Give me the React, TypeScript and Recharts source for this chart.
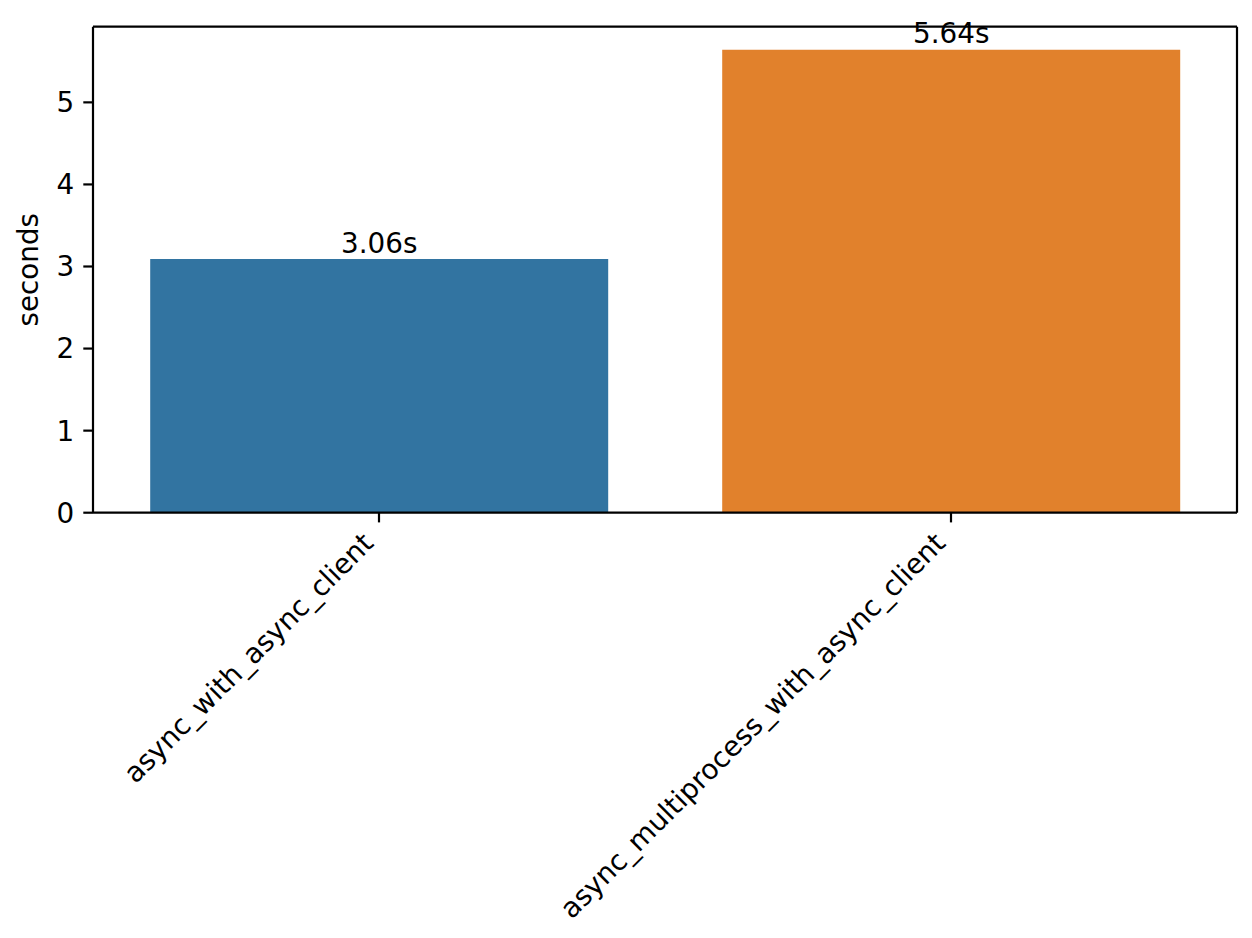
import { BarChart, Bar, XAxis, YAxis, Cell, LabelList } from 'recharts';

// values
const categories = ['async_with_async_client', 'async_multiprocess_with_async_client'];
const seconds = [3.09, 5.64];
const valueLabels = ['3.06s', '5.64s'];
const barColors = ['#3274a1', '#e1812c'];
const yTicks = [0, 1, 2, 3, 4, 5];

const data = categories.map((name, i) => ({ name, seconds: seconds[i], label: valueLabels[i] }));

const FONT = '"DejaVu Sans", sans-serif';
const FONT_SIZE = 27.8;
const LINE = 2.2;

const RotatedTick = (props: any) => {
    const { x, y, payload } = props;
    const px = x - 4;
    const py = y + 22.5;
    return (
        <text x={px} y={py} textAnchor="end" transform={`rotate(-45 ${px} ${py})`}
            fontSize={FONT_SIZE} fontFamily={FONT} fill="#000">
            {payload.value}
        </text>
    );
};

const renderValueLabel = (props: any) => {
    const { x, y, width, value } = props;
    return (
        <text x={x + width / 2} y={y - 6.6} textAnchor="middle" fontSize={FONT_SIZE} fontFamily={FONT} fill="#000">
            {value}
        </text>
    );
};

const renderYLabel = (props: any) => {
    const { viewBox } = props;
    const lx = viewBox.x + 38.5;
    const ly = viewBox.y + viewBox.height / 2;
    return (
        <text x={lx} y={ly} textAnchor="middle" transform={`rotate(-90 ${lx} ${ly})`}
            fontSize={FONT_SIZE} fontFamily={FONT} fill="#000">
            seconds
        </text>
    );
};

export default function App() {
    return (
        <div style={{ position: 'absolute', left: 0, top: 0, background: '#fff' }}>
            <BarChart width={1252} height={938} data={data} barCategoryGap="10%"
                margin={{ top: 25.7, right: 14, bottom: 0, left: 0 }}>
                <XAxis dataKey="name" interval={0} height={425.3} tick={<RotatedTick />}
                    tickSize={9.7} tickMargin={0}
                    axisLine={{ stroke: '#000', strokeWidth: LINE }}
                    tickLine={{ stroke: '#000', strokeWidth: LINE }} />
                <XAxis xAxisId="top" dataKey="name" orientation="top" height={1} tick={false} tickLine={false}
                    axisLine={{ stroke: '#000', strokeWidth: LINE }} />
                <YAxis domain={[0, 5.922]} ticks={yTicks} interval={0} width={93}
                    tickSize={9.7} tickMargin={9}
                    tick={{ fontSize: FONT_SIZE, fontFamily: FONT, fill: '#000' }}
                    axisLine={{ stroke: '#000', strokeWidth: LINE }}
                    tickLine={{ stroke: '#000', strokeWidth: LINE }}
                    label={renderYLabel} />
                <YAxis yAxisId="right" orientation="right" width={1} domain={[0, 5.922]} tick={false} tickLine={false}
                    axisLine={{ stroke: '#000', strokeWidth: LINE }} />
                <Bar dataKey="seconds" isAnimationActive={false}>
                    {data.map((d, i) => (
                        <Cell key={d.name} fill={barColors[i]} />
                    ))}
                    <LabelList dataKey="label" content={renderValueLabel} />
                </Bar>
            </BarChart>
        </div>
    );
}
